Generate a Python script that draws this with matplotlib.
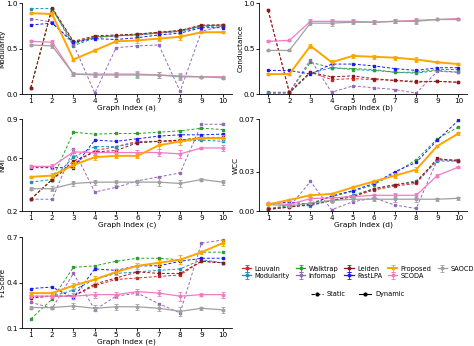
import numpy as np
import matplotlib
matplotlib.use("Agg")
import matplotlib.pyplot as plt
from matplotlib.lines import Line2D

graph_index = [1, 2, 3, 4, 5, 6, 7, 8, 9, 10]
methods = ["Louvain", "Modularity", "Walktrap", "Infomap", "Leiden",
           "FastLPA", "Proposed", "SCODA", "SAOCD"]
dynamic = ["Proposed", "SCODA", "SAOCD"]

# (a) Modularity
mod_louvain = [0.07, 0.94, 0.57, 0.63, 0.64, 0.65, 0.67, 0.69, 0.75, 0.76]
mod_modularity = [0.94, 0.94, 0.53, 0.62, 0.64, 0.65, 0.67, 0.69, 0.74, 0.75]
mod_walktrap = [0.07, 0.94, 0.55, 0.63, 0.64, 0.66, 0.68, 0.70, 0.75, 0.76]
mod_infomap = [0.83, 0.79, 0.55, 0.01, 0.51, 0.53, 0.54, 0.03, 0.69, 0.75]
mod_leiden = [0.07, 0.95, 0.58, 0.64, 0.65, 0.66, 0.68, 0.70, 0.76, 0.76]
mod_fastlpa = [0.76, 0.78, 0.57, 0.61, 0.60, 0.62, 0.65, 0.67, 0.73, 0.73]
mod_proposed = [0.89, 0.88, 0.38, 0.48, 0.58, 0.59, 0.61, 0.63, 0.68, 0.68]
mod_scoda = [0.58, 0.57, 0.22, 0.22, 0.22, 0.22, 0.21, 0.20, 0.19, 0.19]
mod_saocd = [0.54, 0.53, 0.22, 0.21, 0.21, 0.21, 0.21, 0.19, 0.19, 0.18]
mod_err = [0.01, 0.02, 0.02, 0.02, 0.02, 0.03, 0.03, 0.03, 0.01, 0.01]

# (b) Conductance
con_louvain = [0.92, 0.02, 0.24, 0.16, 0.17, 0.16, 0.15, 0.13, 0.14, 0.13]
con_modularity = [0.01, 0.01, 0.23, 0.29, 0.27, 0.26, 0.24, 0.23, 0.26, 0.24]
con_walktrap = [0.02, 0.02, 0.35, 0.29, 0.28, 0.27, 0.24, 0.24, 0.27, 0.27]
con_infomap = [0.01, 0.02, 0.38, 0.02, 0.09, 0.07, 0.05, 0.01, 0.25, 0.24]
con_leiden = [0.92, 0.02, 0.24, 0.19, 0.20, 0.17, 0.15, 0.14, 0.14, 0.13]
con_fastlpa = [0.26, 0.26, 0.22, 0.33, 0.33, 0.31, 0.28, 0.26, 0.29, 0.29]
con_proposed = [0.22, 0.22, 0.53, 0.35, 0.42, 0.41, 0.40, 0.38, 0.35, 0.33]
con_scoda = [0.58, 0.59, 0.80, 0.80, 0.80, 0.79, 0.80, 0.81, 0.82, 0.83]
con_saocd = [0.48, 0.48, 0.78, 0.78, 0.79, 0.79, 0.80, 0.80, 0.82, 0.82]
con_err = [0.01, 0.01, 0.02, 0.03, 0.02, 0.02, 0.02, 0.03, 0.01, 0.01]

# (c) NMI
nmi_louvain = [0.29, 0.44, 0.56, 0.66, 0.69, 0.73, 0.73, 0.74, 0.75, 0.75]
nmi_modularity = [0.42, 0.44, 0.61, 0.69, 0.69, 0.72, 0.73, 0.73, 0.74, 0.73]
nmi_walktrap = [0.29, 0.44, 0.80, 0.785, 0.79, 0.79, 0.80, 0.81, 0.83, 0.82]
nmi_infomap = [0.29, 0.29, 0.67, 0.345, 0.38, 0.43, 0.46, 0.49, 0.86, 0.86]
nmi_leiden = [0.29, 0.44, 0.58, 0.65, 0.66, 0.72, 0.73, 0.74, 0.76, 0.76]
nmi_fastlpa = [0.53, 0.53, 0.53, 0.74, 0.73, 0.75, 0.77, 0.78, 0.78, 0.785]
nmi_proposed = [0.46, 0.47, 0.55, 0.61, 0.62, 0.62, 0.70, 0.73, 0.755, 0.755]
nmi_scoda = [0.54, 0.54, 0.65, 0.645, 0.645, 0.645, 0.645, 0.635, 0.68, 0.68]
nmi_saocd = [0.37, 0.37, 0.41, 0.42, 0.42, 0.42, 0.42, 0.41, 0.44, 0.42]
nmi_err = [0.01, 0.02, 0.02, 0.02, 0.02, 0.02, 0.03, 0.03, 0.01, 0.02]

# (d) WCC
wcc_louvain = [0.0015, 0.003, 0.005, 0.008, 0.011, 0.016, 0.019, 0.021, 0.039, 0.039]
wcc_modularity = [0.001, 0.004, 0.004, 0.008, 0.012, 0.017, 0.020, 0.023, 0.038, 0.038]
wcc_walktrap = [0.002, 0.004, 0.006, 0.011, 0.015, 0.020, 0.029, 0.039, 0.055, 0.064]
wcc_infomap = [0.001, 0.003, 0.0225, 0.001, 0.007, 0.010, 0.0045, 0.002, 0.039, 0.038]
wcc_leiden = [0.0015, 0.003, 0.005, 0.008, 0.011, 0.017, 0.020, 0.022, 0.040, 0.038]
wcc_fastlpa = [0.005, 0.007, 0.005, 0.0115, 0.0155, 0.021, 0.030, 0.037, 0.054, 0.069]
wcc_proposed = [0.005, 0.0085, 0.012, 0.013, 0.018, 0.0225, 0.027, 0.0315, 0.0495, 0.059]
wcc_scoda = [0.006, 0.005, 0.0095, 0.010, 0.011, 0.012, 0.012, 0.012, 0.027, 0.0335]
wcc_saocd = [0.005, 0.004, 0.006, 0.008, 0.009, 0.009, 0.009, 0.009, 0.009, 0.0097]
wcc_err = [0.0005, 0.001, 0.001, 0.001, 0.001, 0.001, 0.002, 0.002, 0.001, 0.001]

# (e) F1Score
f1_louvain = [0.30, 0.31, 0.31, 0.38, 0.42, 0.43, 0.44, 0.45, 0.54, 0.53]
f1_modularity = [0.31, 0.31, 0.35, 0.42, 0.46, 0.47, 0.48, 0.49, 0.55, 0.53]
f1_walktrap = [0.16, 0.29, 0.50, 0.51, 0.54, 0.56, 0.56, 0.55, 0.60, 0.60]
f1_infomap = [0.27, 0.23, 0.46, 0.22, 0.31, 0.33, 0.26, 0.20, 0.66, 0.68]
f1_leiden = [0.30, 0.31, 0.31, 0.39, 0.43, 0.47, 0.46, 0.46, 0.54, 0.53]
f1_fastlpa = [0.36, 0.37, 0.30, 0.49, 0.48, 0.51, 0.51, 0.54, 0.56, 0.56]
f1_proposed = [0.33, 0.33, 0.38, 0.42, 0.47, 0.51, 0.53, 0.55, 0.60, 0.66]
f1_scoda = [0.31, 0.31, 0.31, 0.32, 0.32, 0.34, 0.33, 0.31, 0.32, 0.32]
f1_saocd = [0.235, 0.235, 0.245, 0.23, 0.24, 0.24, 0.23, 0.21, 0.23, 0.22]
f1_err = [0.01, 0.01, 0.02, 0.02, 0.02, 0.02, 0.02, 0.03, 0.01, 0.02]

colors = {"Louvain": "#d62728", "Modularity": "#1f8fbf", "Walktrap": "#2ca02c",
          "Infomap": "#9467bd", "Leiden": "#8b1a1a", "FastLPA": "#1a1aff",
          "Proposed": "#ffa500", "SCODA": "#f27ac3", "SAOCD": "#a0a0a0"}

panels = [
    ("Modularity", "a", [mod_louvain, mod_modularity, mod_walktrap, mod_infomap, mod_leiden,
                         mod_fastlpa, mod_proposed, mod_scoda, mod_saocd], mod_err,
     (0, 1.0), [0.0, 0.5, 1.0], "%.1f"),
    ("Conductance", "b", [con_louvain, con_modularity, con_walktrap, con_infomap, con_leiden,
                          con_fastlpa, con_proposed, con_scoda, con_saocd], con_err,
     (0, 1.0), [0.0, 0.5, 1.0], "%.1f"),
    ("NMI", "c", [nmi_louvain, nmi_modularity, nmi_walktrap, nmi_infomap, nmi_leiden,
                  nmi_fastlpa, nmi_proposed, nmi_scoda, nmi_saocd], nmi_err,
     (0.2, 0.9), [0.2, 0.6, 0.9], "%.1f"),
    ("WCC", "d", [wcc_louvain, wcc_modularity, wcc_walktrap, wcc_infomap, wcc_leiden,
                  wcc_fastlpa, wcc_proposed, wcc_scoda, wcc_saocd], wcc_err,
     (0, 0.07), [0.0, 0.03, 0.07], "%.2f"),
    ("F1Score", "e", [f1_louvain, f1_modularity, f1_walktrap, f1_infomap, f1_leiden,
                      f1_fastlpa, f1_proposed, f1_scoda, f1_saocd], f1_err,
     (0.1, 0.7), [0.1, 0.4, 0.7], "%.1f"),
]

# axes boxes in figure fractions: left, bottom, width, height
boxes = [(0.046, 0.728, 0.443, 0.263), (0.547, 0.728, 0.439, 0.263),
         (0.046, 0.390, 0.443, 0.266), (0.547, 0.390, 0.439, 0.266),
         (0.046, 0.052, 0.443, 0.263)]

fig = plt.figure(figsize=(4.74, 3.46), dpi=100)
for (ylabel, letter, series, err, ylim, yticks, fmt), box in zip(panels, boxes):
    ax = fig.add_axes(box)
    for name, vals in zip(methods, series):
        if name in dynamic:
            lw = 1.4 if name == "Proposed" else 0.9
            ax.errorbar(graph_index, vals, yerr=err, color=colors[name], lw=lw, ls="-",
                        marker="o", ms=1.8, elinewidth=0.6, capsize=1.5, capthick=0.6,
                        zorder=3 if name == "Proposed" else 2)
        else:
            ax.plot(graph_index, vals, color=colors[name], lw=0.7, ls=(0, (3, 2)),
                    marker="s", ms=1.8, zorder=2)
    ax.set_ylim(*ylim)
    ax.set_xlim(0.58, 10.42)
    ax.set_yticks(yticks)
    ax.yaxis.set_major_formatter(matplotlib.ticker.FormatStrFormatter(fmt))
    ax.set_xticks(graph_index)
    ax.tick_params(labelsize=5.2, length=2, width=0.6, pad=1)
    ax.set_xlabel("Graph Index (%s)" % letter, fontsize=5.4, labelpad=0.5)
    ax.set_ylabel(ylabel, fontsize=5.2, labelpad=0.3)
    for s in ["top", "right"]:
        ax.spines[s].set_visible(False)
    for s in ["left", "bottom"]:
        ax.spines[s].set_linewidth(0.6)

# legends in the empty bottom-right slot
leg_ax = fig.add_axes((0.55, 0.0, 0.45, 0.3))
leg_ax.axis("off")
handles = []
for name in methods:
    h = leg_ax.errorbar([np.nan], [np.nan], yerr=[0.1], color=colors[name],
                        lw=1.4 if name == "Proposed" else 0.9, marker="o", ms=1.8,
                        elinewidth=0.6, capsize=1.5, capthick=0.6)
    handles.append(h)
fig.legend(handles, methods, loc="center", bbox_to_anchor=(0.755, 0.213), ncol=5,
           fontsize=4.8, frameon=False, handlelength=1.4, columnspacing=0.9,
           handletextpad=0.5, labelspacing=0.15, borderaxespad=0, borderpad=0)
style_handles = [Line2D([], [], color="black", lw=0.8, ls=(0, (3, 2)), marker="o", ms=2),
                 Line2D([], [], color="black", lw=0.8, ls="-", marker="o", ms=2)]
fig.legend(style_handles, ["Static", "Dynamic"], loc="center", bbox_to_anchor=(0.755, 0.150),
           ncol=2, fontsize=4.8, frameon=False, handlelength=1.8, columnspacing=2.0,
           handletextpad=0.6, borderaxespad=0, borderpad=0)

fig.savefig("out.png", dpi=100)
